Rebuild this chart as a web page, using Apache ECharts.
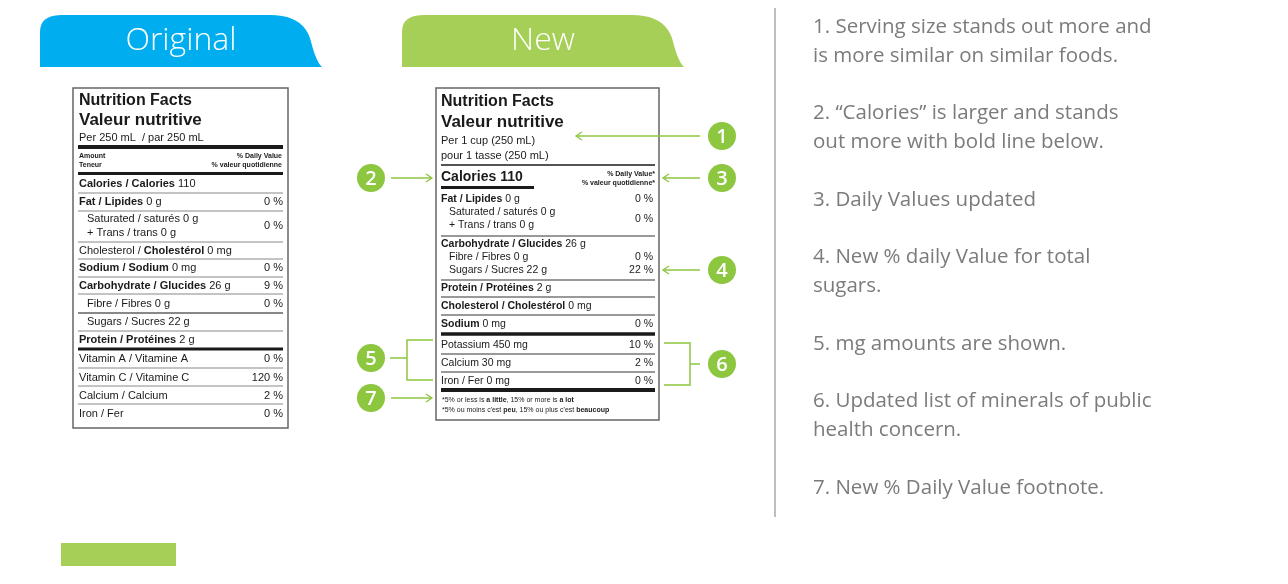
<!DOCTYPE html>
<html><head><meta charset="utf-8">
<script src="https://cdn.jsdelivr.net/npm/echarts@6/dist/echarts.min.js"></script>
<style>html,body{margin:0;background:#fff}#c{width:1288px;height:584px}</style>
</head><body><div id="c"></div>
<script>
// texts
const tabTitles = ['Original', 'New'];
const origHead = ['Nutrition Facts', 'Valeur nutritive', 'Per 250 mL  / par 250 mL'];
const origRows = [
  ['{b|Calories / Calories} {n|110}', ''],
  ['{b|Fat / Lipides} {n|0 g}', '0 %'],
  ['{n|Saturated / saturés 0 g}\n{n|+ Trans / trans 0 g}', '0 %'],
  ['{n|Cholesterol /} {b|Cholestérol} {n|0 mg}', ''],
  ['{b|Sodium / Sodium} {n|0 mg}', '0 %'],
  ['{b|Carbohydrate / Glucides} {n|26 g}', '9 %'],
  ['{n|Fibre / Fibres 0 g}', '0 %'],
  ['{n|Sugars / Sucres 22 g}', ''],
  ['{b|Protein / Protéines} {n|2 g}', ''],
  ['{n|Vitamin A / Vitamine A}', '0 %'],
  ['{n|Vitamin C / Vitamine C}', '120 %'],
  ['{n|Calcium / Calcium}', '2 %'],
  ['{n|Iron / Fer}', '0 %']
];
const newHead = ['Nutrition Facts', 'Valeur nutritive', 'Per 1 cup (250 mL)', 'pour 1 tasse (250 mL)'];
const newRows = [
  ['{b|Fat / Lipides} {n|0 g}', '0 %'],
  ['{n|Saturated / saturés 0 g}\n{n|+ Trans / trans 0 g}', '0 %'],
  ['{b|Carbohydrate / Glucides} {n|26 g}', ''],
  ['{n|Fibre / Fibres 0 g}', '0 %'],
  ['{n|Sugars / Sucres 22 g}', '22 %'],
  ['{b|Protein / Protéines} {n|2 g}', ''],
  ['{b|Cholesterol / Cholestérol} {n|0 mg}', ''],
  ['{b|Sodium} {n|0 mg}', '0 %'],
  ['{n|Potassium 450 mg}', '10 %'],
  ['{n|Calcium 30 mg}', '2 %'],
  ['{n|Iron / Fer 0 mg}', '0 %']
];
const footnotes = ['*5% or less is {b|a little}, 15% or more is {b|a lot}', '*5% ou moins c\'est {b|peu}, 15% ou plus c\'est {b|beaucoup}'];
const notes = [
  '1. Serving size stands out more and\nis more similar on similar foods.',
  '2. \u201cCalories\u201d is larger and stands\nout more with bold line below.',
  '3. Daily Values updated',
  '4. New % daily Value for total\nsugars.',
  '5. mg amounts are shown.',
  '6. Updated list of minerals of public\nhealth concern.',
  '7. New % Daily Value footnote.'
];
const calloutNums = ['1', '2', '3', '4', '5', '6', '7'];

// layout
const origRowY = [184, 202, 226, 251, 268, 286, 304, 322, 340, 359, 378, 396, 414];
const origLineY = [193, 211, 242, 259, 277, 294, 313, 331, 349, 368, 386, 404];
const origIndent = [0, 0, 1, 0, 0, 0, 1, 1, 0, 0, 0, 0, 0];
const newRowY = [199, 219, 244, 257, 270, 288, 306, 324, 345, 363, 381];
const newIndent = [0, 1, 0, 1, 1, 0, 0, 0, 0, 0, 0];
const newLines = [[236, 1.5], [280, 1.5], [297, 1.5], [315, 1.5], [334, 3.5], [354, 1.5], [372, 1.5], [390, 4]];
const noteY = [27, 113, 200, 257, 344, 401, 488];
const calloutPos = [[722, 136], [371, 178], [722, 178], [722, 270], [371, 358], [722, 364], [371, 398]];

const F = 'Liberation Sans, Arial, sans-serif';
const BLUE = '#00aeef', GREEN = '#a6cf57', CIRC = '#8dc63f', INK = '#1a1a1a';
const rich = (s) => ({ b: { fontFamily: F, fontSize: s, fontWeight: 'bold', fill: INK }, n: { fontFamily: F, fontSize: s, fill: INK } });
const g = [];

function text(x, y, t, o) {
  g.push({ type: 'text', x, y, style: Object.assign({ text: t, fontFamily: F, fill: INK, verticalAlign: 'middle' }, o) });
}
function rect(x, y, w, h, fill) { g.push({ type: 'rect', shape: { x, y, width: w, height: h }, style: { fill } }); }
function line(x1, y1, x2, y2, w, c) { g.push({ type: 'line', shape: { x1, y1, x2, y2 }, style: { stroke: c || INK, lineWidth: w } }); }
function quad(p0, p1, p2, out) {
  for (let t = 0; t <= 1.0001; t += 0.1) {
    const u = 1 - t;
    out.push([u * u * p0[0] + 2 * u * t * p1[0] + t * t * p2[0], u * u * p0[1] + 2 * u * t * p1[1] + t * t * p2[1]]);
  }
}

// tabs
[[40, BLUE], [402, GREEN]].forEach(([x0, c], i) => {
  const pts = [[x0, 67]];
  quad([x0, 32], [x0, 15], [x0 + 22, 15], pts);
  quad([x0 + 230, 15], [x0 + 262, 15], [x0 + 270, 38], pts);
  quad([x0 + 270, 38], [x0 + 276, 62], [x0 + 282, 67], pts);
  g.push({ type: 'polygon', shape: { points: pts }, style: { fill: c } });
  text(x0 + 141, 41, tabTitles[i], { fill: '#fff', fontFamily: 'Open Sans, sans-serif', fontSize: 32, fontWeight: 300, align: 'center' });
});

// original label
g.push({ type: 'rect', shape: { x: 73, y: 88, width: 215, height: 340 }, style: { fill: '#fff', stroke: '#666', lineWidth: 1.5 } });
text(79, 101, origHead[0], { fontSize: 16, fontWeight: 'bold' });
text(79, 120, origHead[1], { fontSize: 17, fontWeight: 'bold' });
text(79, 138, origHead[2], { fontSize: 11 });
rect(78, 145, 205, 4, INK);
text(79, 161, 'Amount\nTeneur', { fontSize: 7, fontWeight: 'bold', lineHeight: 9 });
text(282, 161, '% Daily Value\n% valeur quotidienne', { fontSize: 7, fontWeight: 'bold', lineHeight: 9, align: 'right' });
rect(78, 172, 205, 3, INK);
origRows.forEach((r, i) => {
  text(79 + origIndent[i] * 8, origRowY[i], r[0], { fontSize: 11, rich: rich(11), lineHeight: 14 });
  if (r[1]) text(283, origRowY[i], r[1], { fontSize: 11, align: 'right' });
});
origLineY.forEach((y, i) => line(78, y, 283, y, i === 6 ? 2 : (i === 8 ? 3 : 1), i === 8 ? INK : '#888'));

// new label
g.push({ type: 'rect', shape: { x: 436, y: 88, width: 223, height: 332 }, style: { fill: '#fff', stroke: '#666', lineWidth: 1.5 } });
text(441, 102, newHead[0], { fontSize: 16, fontWeight: 'bold' });
text(441, 122, newHead[1], { fontSize: 17, fontWeight: 'bold' });
text(441, 141, newHead[2], { fontSize: 11 });
text(441, 156, newHead[3], { fontSize: 11 });
line(441, 165, 655, 165, 1.5);
text(441, 177, 'Calories 110', { fontSize: 14, fontWeight: 'bold' });
rect(441, 186, 93, 3, INK);
text(655, 179, '% Daily Value*\n% valeur quotidienne*', { fontSize: 7, fontWeight: 'bold', lineHeight: 9, align: 'right' });
newRows.forEach((r, i) => {
  text(441 + newIndent[i] * 8, newRowY[i], r[0], { fontSize: 10.5, rich: rich(10.5), lineHeight: 13 });
  if (r[1]) text(653, newRowY[i], r[1], { fontSize: 10.5, align: 'right' });
});
newLines.forEach(([y, w]) => line(441, y, 655, y, w, w > 2 ? INK : '#777'));
footnotes.forEach((t, i) => text(442, 400 + i * 10, t, { fontSize: 7, rich: { b: { fontFamily: F, fontSize: 7, fontWeight: 'bold', fill: INK } } }));

// callout connectors
const AC = CIRC;
function arrow(x1, y, x2) {
  line(x1, y, x2, y, 1.3, AC);
  const d = x2 < x1 ? 1 : -1;
  g.push({ type: 'polyline', shape: { points: [[x2 + 6 * d, y - 4], [x2, y], [x2 + 6 * d, y + 4]] }, style: { stroke: AC, lineWidth: 1.3, fill: null } });
}
arrow(700, 136, 576);
arrow(391, 178, 432);
arrow(700, 178, 663);
arrow(700, 270, 663);
arrow(391, 398, 432);
g.push({ type: 'polyline', shape: { points: [[390, 358], [407, 358]] }, style: { stroke: AC, lineWidth: 1.5 } });
g.push({ type: 'polyline', shape: { points: [[433, 340], [407, 340], [407, 380], [433, 380]] }, style: { stroke: AC, lineWidth: 1.5, fill: null } });
g.push({ type: 'polyline', shape: { points: [[700, 364], [690, 364]] }, style: { stroke: AC, lineWidth: 1.5 } });
g.push({ type: 'polyline', shape: { points: [[664, 343], [690, 343], [690, 385], [664, 385]] }, style: { stroke: AC, lineWidth: 1.5, fill: null } });
calloutNums.forEach((n, i) => {
  const [x, y] = calloutPos[i];
  g.push({ type: 'circle', shape: { cx: x, cy: y, r: 14 }, style: { fill: CIRC } });
  text(x, y + 1, n, { fill: '#fff', fontFamily: 'Open Sans, sans-serif', fontSize: 20, fontWeight: 600, align: 'center' });
});

// divider + notes
line(775, 8, 775, 517, 2, '#bdbdbd');
notes.forEach((t, i) => g.push({ type: 'text', x: 813, y: noteY[i] - 14, style: { text: t, fontFamily: 'Open Sans, sans-serif', fontSize: 20.5, fill: '#7b7b7b', lineHeight: 29 } }));
rect(61, 543, 115, 23, GREEN);

const chart = echarts.init(document.getElementById('c'));
chart.setOption({ animation: false, graphic: { elements: g } });
</script></body></html>
